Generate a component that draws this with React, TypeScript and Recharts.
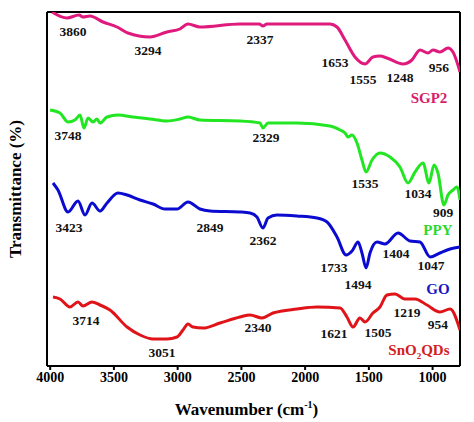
import React from "react";
import { LineChart, Line, XAxis, YAxis, ReferenceDot, ReferenceLine } from "recharts";

// FTIR spectra, wavenumber (cm-1) vs transmittance (offset, arb. units)
const SGP2: [number, number][] = [
	[3986, 354], [3868, 348], [3774, 351], [3743, 349], [3688, 350], [3586, 344], [3476, 339],
	[3390, 333], [3217, 329], [3084, 334], [2982, 337], [2919, 342], [2825, 339], [2511, 342],
	[2360, 342], [2331, 340], [2300, 342], [1805, 342], [1750, 339], [1687, 326], [1609, 309],
	[1530, 302], [1468, 309], [1413, 310], [1358, 308], [1232, 302], [1162, 306], [1099, 316],
	[1036, 313], [997, 316], [942, 314], [879, 318], [840, 314], [785, 294],
];

const PPY: [number, number][] = [
	[4001, 256], [3923, 253], [3860, 244], [3805, 246], [3766, 251], [3735, 238], [3703, 248],
	[3664, 244], [3633, 247], [3609, 243], [3554, 249], [3468, 251], [3350, 249], [3217, 247],
	[3084, 245], [2982, 247], [2919, 249], [2825, 246], [2511, 245], [2354, 243], [2331, 238],
	[2291, 243], [2064, 243], [1805, 240], [1726, 236], [1687, 233], [1664, 229], [1632, 231],
	[1593, 223], [1554, 206], [1522, 194], [1475, 206], [1413, 213], [1334, 209], [1256, 199],
	[1193, 183], [1138, 194], [1075, 203], [1028, 183], [989, 201], [958, 193], [911, 161],
	[879, 171], [840, 176], [809, 179], [785, 166],
];

const GO: [number, number][] = [
	[3978, 183], [3939, 176], [3860, 154], [3782, 165], [3727, 151], [3672, 163], [3609, 155],
	[3554, 163], [3468, 173], [3397, 171], [3295, 166], [3193, 162], [3099, 157], [3005, 157],
	[2919, 164], [2825, 157], [2746, 155], [2511, 154], [2432, 153], [2378, 149], [2331, 138],
	[2291, 148], [2221, 151], [2064, 150], [1907, 148], [1828, 144], [1750, 129], [1679, 111],
	[1632, 115], [1585, 124], [1554, 113], [1522, 98], [1491, 113], [1436, 124], [1373, 122],
	[1271, 133], [1177, 125], [1099, 124], [1020, 109], [942, 113], [863, 117], [785, 119],
];

const SNO2: [number, number][] = [
	[3978, 69], [3923, 67], [3845, 59], [3782, 64], [3743, 60], [3672, 64], [3609, 61],
	[3531, 56], [3397, 39], [3295, 31], [3193, 27], [3084, 27], [3005, 29], [2958, 36],
	[2919, 42], [2880, 39], [2801, 38], [2668, 43], [2511, 49], [2432, 51], [2338, 48],
	[2252, 53], [2064, 57], [1907, 59], [1726, 58], [1672, 49], [1624, 39], [1570, 48],
	[1530, 44], [1468, 53], [1413, 59], [1358, 71], [1295, 72], [1217, 67], [1138, 67],
	[1044, 61], [942, 54], [863, 57], [785, 36],
];

// peak annotations: [wavenumber position, y position, text]
const PEAK_LABELS: [number, number, string][] = [
	[3821, 335, "3860"], [3233, 316, "3294"], [2354, 327, "2337"], [1766, 304, "1653"],
	[1546, 287, "1555"], [1256, 289, "1248"], [950, 299, "956"],
	[3860, 231, "3748"], [2307, 229, "2329"], [1530, 183, "1535"], [1115, 173, "1034"], [918, 154, "909"],
	[3852, 139, "3423"], [2746, 139, "2849"], [2330, 126, "2362"], [1773, 99, "1733"],
	[1585, 82, "1494"], [1287, 113, "1404"], [1013, 101, "1047"],
	[3719, 46, "3714"], [3123, 14, "3051"], [2370, 39, "2340"], [1773, 33, "1621"],
	[1428, 34, "1505"], [1201, 54, "1219"], [958, 42, "954"],
];

const SERIES = [
	{ name: "SGP2", data: SGP2, color: "#e0197d", label: [1028, 268], labelColor: "#d81b6a" },
	{ name: "PPY", data: PPY, color: "#22e622", label: [958, 136], labelColor: "#2ed82e" },
	{ name: "GO", data: GO, color: "#0b0bd0", label: [958, 77], labelColor: "#1818c0" },
	{ name: "SnO2QDs", data: SNO2, color: "#e01418", label: [1107, 16], labelColor: "#d42020" },
];

const X_TICKS = [4000, 3500, 3000, 2500, 2000, 1500, 1000];
const X_DOMAIN: [number, number] = [785, 4025];
const Y_DOMAIN: [number, number] = [0, 354];

const FONT = "'Liberation Serif', 'Times New Roman', serif";

function SeriesName({ viewBox, name, fill }: any) {
	const x = viewBox.x + (viewBox.width || 0) / 2;
	const y = viewBox.y + (viewBox.height || 0) / 2;
	return (
		<text x={x} y={y} dy={5} textAnchor="middle" fill={fill} fontFamily={FONT} fontWeight="bold" fontSize={15}>
			{name === "SnO2QDs" ? (
				<>
					SnO<tspan fontSize={9} dy={4}>2</tspan>
					<tspan dy={-4}>QDs</tspan>
				</>
			) : (
				name
			)}
		</text>
	);
}

function XLabel({ viewBox }: any) {
	const x = viewBox.x + viewBox.width / 2 - 7;
	return (
		<text x={x} y={viewBox.y + 49} textAnchor="middle" fontFamily={FONT} fontWeight="bold" fontSize={17} fill="#000">
			Wavenumber (cm<tspan fontSize={10} dy={-7}>-1</tspan>
			<tspan dy={7}>)</tspan>
		</text>
	);
}

export default function App() {
	const lines = SERIES.map((s) => ({
		...s,
		rows: s.data.map(([wn, t]) => ({ wn, t })),
	}));

	return (
		<div style={{ position: "absolute", left: 0, top: 0, background: "#fff" }}>
			<LineChart width={474} height={422} margin={{ top: 12, right: 14, bottom: 26, left: 0 }}>
				<XAxis
					dataKey="wn"
					type="number"
					domain={X_DOMAIN}
					reversed
					allowDataOverflow
					ticks={X_TICKS}
					tickSize={4}
					height={30}
					tick={{ fontSize: 14, fontWeight: "bold", fill: "#000", fontFamily: FONT }}
					stroke="#000"
					strokeWidth={2}
					label={<XLabel />}
				/>
				<YAxis
					type="number"
					domain={Y_DOMAIN}
					allowDataOverflow
					width={47}
					tick={false}
					tickLine={false}
					stroke="#000"
					strokeWidth={2}
					label={{
						value: "Transmittance (%)",
						angle: -90,
						position: "insideLeft",
						offset: 15,
						style: { textAnchor: "middle", fontFamily: FONT, fontWeight: "bold", fontSize: 17, fill: "#000" },
					}}
				/>
				{/* frame: top and right edges */}
				<ReferenceLine y={Y_DOMAIN[1]} stroke="#000" strokeWidth={2} ifOverflow="visible" />
				<ReferenceLine x={X_DOMAIN[0]} stroke="#000" strokeWidth={2} ifOverflow="visible" />
				{lines.map((s) => (
					<Line
						key={s.name}
						data={s.rows}
						dataKey="t"
						type="monotone"
						stroke={s.color}
						strokeWidth={3}
						dot={false}
						isAnimationActive={false}
					/>
				))}
				{PEAK_LABELS.map(([wn, y, text]) => (
					<ReferenceDot
						key={text + wn}
						x={wn}
						y={y}
						r={0}
						stroke="none"
						fill="none"
						label={{
							value: text,
							position: "center",
							fill: "#111",
							fontSize: 13.5,
							fontWeight: "bold",
							fontFamily: FONT,
						}}
					/>
				))}
				{lines.map((s) => (
					<ReferenceDot
						key={"name-" + s.name}
						x={s.label[0]}
						y={s.label[1]}
						r={0}
						stroke="none"
						fill="none"
						label={<SeriesName name={s.name} fill={s.labelColor} />}
					/>
				))}
			</LineChart>
		</div>
	);
}
